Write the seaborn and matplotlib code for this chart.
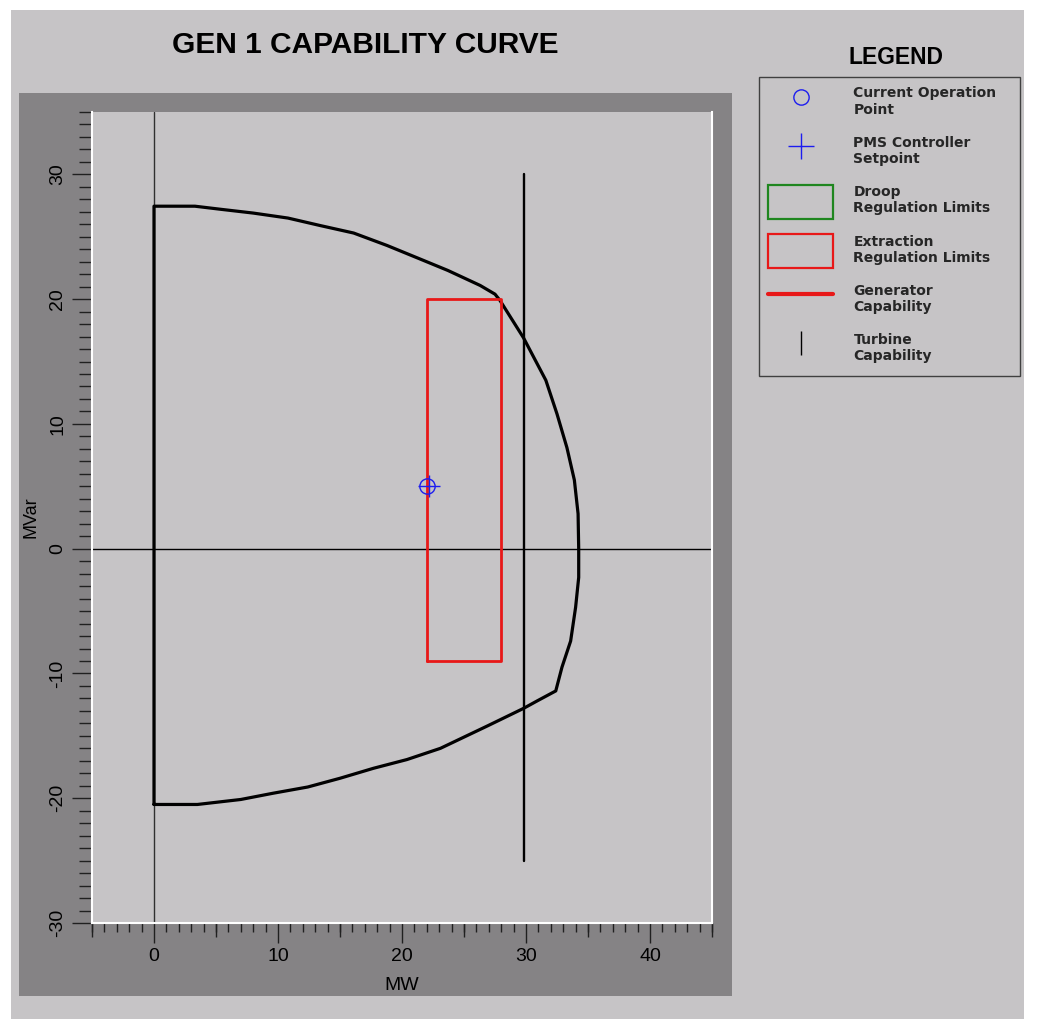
import numpy as np
import pandas as pd
import matplotlib
matplotlib.use("Agg")
import matplotlib.pyplot as plt
import seaborn as sns
from matplotlib.patches import Rectangle, Patch
from matplotlib.lines import Line2D
from matplotlib.ticker import MultipleLocator

# ---------------- data ----------------
gen_mw = [0, 0, 3.3, 5.4, 8.0, 10.8, 13.4, 16.1, 18.8, 21.5, 23.7, 26.3, 27.5,
          27.9, 29.8, 31.6, 32.5, 33.3, 33.9, 34.2, 34.25, 34.25, 34.0, 33.6, 32.9, 32.4,
          30.9, 29.8, 26.9, 23.1, 20.4, 17.7, 15.0, 12.4, 9.6, 7.0, 3.5, 0]
gen_mvar = [-20.5, 27.45, 27.45, 27.2, 26.9, 26.5, 25.9, 25.3, 24.3, 23.2, 22.3, 21.1, 20.4,
            19.9, 16.9, 13.5, 10.8, 8.1, 5.5, 2.8, 0.0, -2.3, -4.7, -7.4, -9.5, -11.4,
            -12.2, -12.8, -14.2, -16.0, -16.9, -17.6, -18.4, -19.1, -19.6, -20.1, -20.5, -20.5]
turbine_mw = [29.8, 29.8]
turbine_mvar = [-25, 30]
extraction_mw = [22, 28]
extraction_mvar = [-9, 20]
operation_point = (22.0, 5.0)
setpoint = (22.2, 5.0)
x_ticks = [0, 10, 20, 30, 40]
y_ticks = [-30, -20, -10, 0, 10, 20, 30]
legend_labels = ["Current Operation\nPoint", "PMS Controller\nSetpoint",
                 "Droop\nRegulation Limits", "Extraction\nRegulation Limits",
                 "Generator\nCapability", "Turbine\nCapability"]

# ---------------- style ----------------
sns.set_style("ticks")
plt.rcParams['font.family'] = ['Liberation Sans', 'DejaVu Sans']
plt.rcParams['axes.unicode_minus'] = False

W, H = 1038, 1024
BG = '#c6c4c6'
DARK = '#858385'
TICK = '#202020'

fig = plt.figure(figsize=(W / 100, H / 100), dpi=100, facecolor='white')
fig.patches.append(Rectangle((11 / W, 1 - 1019 / H), (1024 - 11) / W, (1019 - 10) / H,
                             transform=fig.transFigure, facecolor=BG, edgecolor='none', zorder=-10))
fig.patches.append(Rectangle((19 / W, 1 - 996 / H), (732 - 19) / W, (996 - 93) / H,
                             transform=fig.transFigure, facecolor=DARK, edgecolor='none', zorder=-9))

ax = fig.add_axes([92 / W, 1 - 923 / H, 620 / W, 811 / H])
ax.set_facecolor(BG)

# axes zero lines
ax.axhline(0, color='black', lw=1.0, zorder=1)
ax.axvline(0, color='#303030', lw=1.0, zorder=1)

# generator capability curve
gen_df = pd.DataFrame({'MW': gen_mw, 'MVar': gen_mvar})
sns.lineplot(data=gen_df, x='MW', y='MVar', sort=False, estimator=None,
             color='black', lw=2.3, ax=ax, zorder=3)

# turbine capability
sns.lineplot(x=turbine_mw, y=turbine_mvar, sort=False, estimator=None,
             color='black', lw=1.7, ax=ax, zorder=3)

# extraction regulation limits rectangle
rx = [extraction_mw[0], extraction_mw[1], extraction_mw[1], extraction_mw[0], extraction_mw[0]]
ry = [extraction_mvar[0], extraction_mvar[0], extraction_mvar[1], extraction_mvar[1], extraction_mvar[0]]
sns.lineplot(x=rx, y=ry, sort=False, estimator=None, color='#e81818', lw=2.0, ax=ax, zorder=4)

# operating point / setpoint
ax.plot([operation_point[0]], [operation_point[1]], marker='o', ls='none', ms=11,
        mfc='none', mec='#1c1cf0', mew=1.0, zorder=5)
ax.plot([setpoint[0]], [setpoint[1]], marker='+', ls='none', ms=16,
        color='#1c1cf0', mew=1.0, zorder=5)

ax.set_xlim(-5, 45)
ax.set_ylim(-30, 35)

# ticks (lengths in points)
ax.set_xticks(x_ticks)
ax.set_yticks(y_ticks)
ax.xaxis.set_minor_locator(MultipleLocator(1))
ax.yaxis.set_minor_locator(MultipleLocator(1))
ax.tick_params(axis='both', which='major', length=14.4, width=1.0, color=TICK,
               direction='out', labelsize=14, labelcolor='black')
ax.tick_params(axis='x', which='major', pad=3.6)
ax.tick_params(axis='y', which='major', pad=4.3)
ax.tick_params(axis='x', which='minor', length=6.5, width=1.0, color=TICK, direction='out')
ax.tick_params(axis='y', which='minor', length=9.4, width=1.0, color=TICK, direction='out')
for lab in ax.get_yticklabels():
    lab.set_rotation(90)
    lab.set_va('center')

# medium ticks at the 5s on x
sec = ax.secondary_xaxis('bottom')
sec.set_xticks([-5, 5, 15, 25, 35, 45])
sec.tick_params(axis='x', which='major', length=10, width=1.0, color=TICK,
                direction='out', labelbottom=False)
sec.tick_params(axis='x', which='minor', length=0)
sec.spines['bottom'].set_visible(False)

ax.spines['top'].set_visible(False)
for s in ['left', 'bottom', 'right']:
    ax.spines[s].set_color('white')
    ax.spines[s].set_linewidth(1.5)

ax.set_xlabel('MW', fontsize=14, labelpad=9, color='black')
ax.set_ylabel('MVar', fontsize=13, labelpad=7, color='black')

# titles
fig.text(365 / W, 1 - 45 / H, 'GEN 1 CAPABILITY CURVE', ha='center', va='center',
         fontsize=21.5, fontweight='bold', color='black')
fig.text(896 / W, 1 - 58 / H, 'LEGEND', ha='center', va='center',
         fontsize=16.5, fontweight='bold', color='black')

# legend
handles = [
    Line2D([], [], marker='o', ls='none', mfc='none', mec='#1c1cf0', ms=11, mew=1.0),
    Line2D([], [], marker='+', ls='none', color='#1c1cf0', ms=19, mew=1.0),
    Patch(facecolor='none', edgecolor='#1f861f', lw=1.6),
    Patch(facecolor='none', edgecolor='#e81818', lw=1.6),
    Line2D([], [], color='#e81818', lw=3),
    Line2D([], [], marker='|', ls='none', color='black', ms=17, mew=1.0),
]
leg = fig.legend(handles, legend_labels, loc='upper left',
                 bbox_to_anchor=(759 / W, 1 - 378 / H, 261 / W, 301 / H),
                 mode='expand', borderaxespad=0, frameon=True, fancybox=False,
                 prop={'family': 'DejaVu Sans', 'weight': 'bold', 'size': 10},
                 handlelength=4.7, handleheight=3.4, handletextpad=1.45,
                 borderpad=0.65, labelspacing=1.1, numpoints=1)
leg.get_frame().set_facecolor(BG)
leg.get_frame().set_edgecolor('#404040')
leg.get_frame().set_linewidth(1.0)
leg.get_frame().set_alpha(1)

fig.savefig('out.png', dpi=100, facecolor='white')
